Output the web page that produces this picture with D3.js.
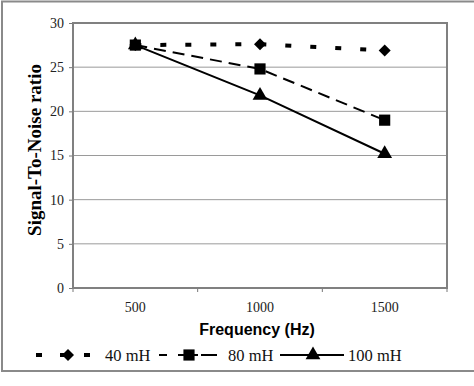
<!DOCTYPE html>
<html>
<head>
<meta charset="utf-8">
<script src="https://cdn.jsdelivr.net/npm/d3@7"></script>
<style>
body { margin: 0; background: #fff; }
svg { display: block; }
</style>
</head>
<body>
<svg></svg>
<script>
var frequencies = ["500", "1000", "1500"]
var yTicks = [0, 5, 10, 15, 20, 25, 30]
var s40 = [27.5, 27.6, 26.9]
var s80 = [27.5, 24.8, 19.0]
var s100 = [27.5, 21.8, 15.2]
var seriesNames = ["40 mH", "80 mH", "100 mH"]

var screen = {width: 474, height: 386}
var plot = {left: 73, right: 447, top: 23, bottom: 288}

// square diamond (equal width and height)
var diamond = {
    draw: function(context, size) {
        var r = Math.sqrt(size / 2)
        context.moveTo(0, -r)
        context.lineTo(r, 0)
        context.lineTo(0, r)
        context.lineTo(-r, 0)
        context.closePath()
    }
}

var styles = [
    {values: s40, dash: "6,19", width: 4, marker: diamond, size: 72},
    {values: s80, dash: "12,7", width: 2, marker: d3.symbolSquare, size: 125},
    {values: s100, dash: null, width: 2, marker: d3.symbolTriangle, size: 95}
]
var legendDash = ["6,18", "8,11,20,3,20", null]

var svg = d3.select("svg")
    .attr("width", screen.width)
    .attr("height", screen.height)

// outer frame
svg.append("rect")
    .attr("x", 2).attr("y", 1.5)
    .attr("width", 480).attr("height", 369.5)
    .attr("fill", "none")
    .attr("stroke", "#8a8a8a")
    .attr("stroke-width", 2)

var xScale = d3.scaleBand()
    .domain(frequencies)
    .range([plot.left, plot.right])
var yScale = d3.scaleLinear()
    .domain([0, 30])
    .range([plot.bottom, plot.top])

// gridlines
svg.append("g")
    .selectAll("line")
    .data(yTicks.slice(1, -1))
    .enter()
    .append("line")
    .attr("x1", plot.left).attr("x2", plot.right)
    .attr("y1", function(d){return yScale(d)})
    .attr("y2", function(d){return yScale(d)})
    .attr("stroke", "#9a9a9a")
    .attr("stroke-width", 1)

var yAxis = d3.axisLeft(yScale).tickValues(yTicks).tickSize(4).tickPadding(5)
var gy = svg.append("g")
    .attr("transform", "translate(" + plot.left + ",0)")
    .call(yAxis)
gy.select(".domain").remove()
gy.selectAll("line").attr("stroke", "#777")
gy.selectAll("text")
    .attr("font-family", "Liberation Serif, Times New Roman, serif")
    .attr("font-size", 14)
    .attr("fill", "#222")

var xAxis = d3.axisBottom(xScale).tickSize(0).tickPadding(14)
var gx = svg.append("g")
    .attr("transform", "translate(0," + plot.bottom + ")")
    .call(xAxis)
gx.select(".domain").remove()
gx.selectAll("text")
    .attr("font-family", "Liberation Serif, Times New Roman, serif")
    .attr("font-size", 14)
    .attr("fill", "#222")

// band ticks
svg.append("g")
    .selectAll("line")
    .data([0, 1, 2, 3])
    .enter()
    .append("line")
    .attr("x1", function(i){return plot.left + i * xScale.step()})
    .attr("x2", function(i){return plot.left + i * xScale.step()})
    .attr("y1", plot.bottom).attr("y2", plot.bottom + 4)
    .attr("stroke", "#777")

// plot border
svg.append("rect")
    .attr("x", plot.left).attr("y", plot.top)
    .attr("width", plot.right - plot.left)
    .attr("height", plot.bottom - plot.top)
    .attr("fill", "none")
    .attr("stroke", "#808080")
    .attr("stroke-width", 2)

var lineGenerator = d3.line()
    .x(function(d, i){return xScale(frequencies[i]) + xScale.bandwidth() / 2})
    .y(function(d){return yScale(d)})

styles.forEach(function(s) {
    svg.append("path")
        .datum(s.values)
        .attr("d", lineGenerator)
        .attr("fill", "none")
        .attr("stroke", "#000")
        .attr("stroke-width", s.width)
        .attr("stroke-dasharray", s.dash)
})
styles.forEach(function(s) {
    svg.append("g")
        .selectAll("path")
        .data(s.values)
        .enter()
        .append("path")
        .attr("d", d3.symbol().type(s.marker).size(s.size))
        .attr("transform", function(d, i) {
            return "translate(" + (xScale(frequencies[i]) + xScale.bandwidth() / 2) + "," + yScale(d) + ")"
        })
        .attr("fill", "#000")
})

// axis titles
svg.append("text")
    .attr("transform", "translate(41,150) rotate(-90)")
    .attr("text-anchor", "middle")
    .attr("font-family", "Liberation Serif, Times New Roman, serif")
    .attr("font-weight", "bold")
    .attr("font-size", 19)
    .text("Signal-To-Noise ratio")

svg.append("text")
    .attr("x", 257).attr("y", 335)
    .attr("text-anchor", "middle")
    .attr("font-family", "Liberation Sans, Arial, sans-serif")
    .attr("font-weight", "bold")
    .attr("font-size", 16)
    .text("Frequency (Hz)")

// legend
var legendItems = [
    {x1: 36, x2: 92, mx: 68, tx: 105},
    {x1: 159, x2: 217, mx: 189, tx: 228},
    {x1: 280, x2: 344, mx: 313, tx: 348}
]
var ly = 355
legendItems.forEach(function(item, i) {
    var s = styles[i]
    svg.append("line")
        .attr("x1", item.x1).attr("x2", item.x2)
        .attr("y1", ly).attr("y2", ly)
        .attr("stroke", "#000")
        .attr("stroke-width", s.width)
        .attr("stroke-dasharray", legendDash[i])
    svg.append("path")
        .attr("d", d3.symbol().type(s.marker).size(s.size))
        .attr("transform", "translate(" + item.mx + "," + ly + ")")
        .attr("fill", "#000")
    svg.append("text")
        .attr("x", item.tx).attr("y", ly + 5.5)
        .attr("font-family", "Liberation Serif, Times New Roman, serif")
        .attr("font-size", 16.5)
        .attr("fill", "#111")
        .text(seriesNames[i])
})
</script>
</body>
</html>
